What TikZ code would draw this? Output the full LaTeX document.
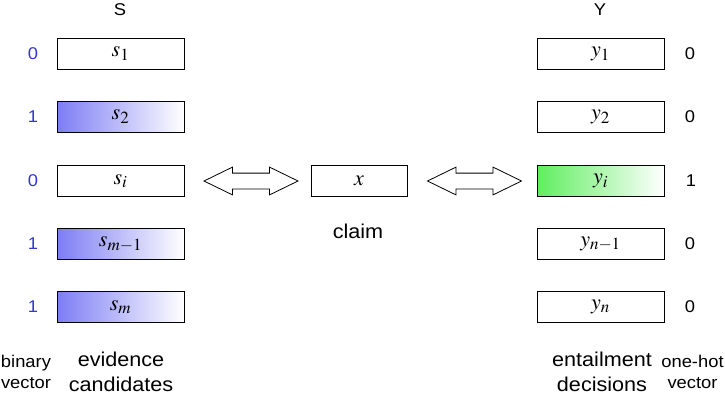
\documentclass[tikz,border=0pt]{standalone}
\usepackage{mathptmx}
\usepackage{fontspec}
\setmainfont[FakeStretch=1.08]{Liberation Sans}
\DeclareMathSizes{22}{22}{17}{13}
\usetikzlibrary{shapes.arrows, positioning}
\definecolor{evidblue}{RGB}{125,125,245}
\definecolor{entgreen}{RGB}{95,238,95}
\definecolor{bitblue}{RGB}{55,55,205}

\begin{document}
\begin{tikzpicture}[x=1pt, y=-1pt,
  every node/.style = {font=\fontsize{17}{20}\selectfont},
  cell/.style    = {rectangle, draw, line width=0.9pt, minimum width=127pt, minimum height=31pt, inner sep=0pt, font=\fontsize{22}{24}\selectfont},
  evid/.style    = {cell, left color=evidblue, right color=white},
  ent/.style     = {cell, left color=entgreen, right color=white},
  bit/.style     = {text=bitblue},
  link/.style    = {double arrow, draw, line width=0.8pt, inner xsep=0pt, inner ysep=7.5pt, minimum height=94pt, double arrow head extend=6pt, double arrow tip angle=52},
  caption/.style = {align=center, inner sep=0pt, font=\fontsize{20}{25}\selectfont},
  smallcap/.style = {align=center, inner sep=0pt, font=\fontsize{17}{21}\selectfont},
]
\useasboundingbox (0,0) rectangle (725,397);
% Evidence column
\node (hS) at (120,9.5) {S};
\node[cell] (s1) at (120.5,54) {$s_1$};
\node[evid] (s2) at (120.5,117) {$s_2$};
\node[cell] (si) at (120.5,181) {$s_i$};
\node[evid] (sm1) at (120.5,244) {$s_{m-1}$};
\node[evid] (sm) at (120.5,307) {$s_m$};
% Binary vector
\node[bit] (b1) at (33,54) {0};
\node[bit] (b2) at (33,117) {1};
\node[bit] (bi) at (33,181) {0};
\node[bit] (bm1) at (33,244) {1};
\node[bit] (bm) at (33,307) {1};
% Claim
\node[cell, minimum width=96pt] (x) at (359,181) {$x$};
\node[caption] (claim) at (358,231) {claim};
\node[link] (lx) at (251,181) {};
\node[link] (rx) at (474.5,181) {};
% Entailment column
\node (hY) at (600,9.5) {Y};
\node[cell] (y1) at (600.5,54) {$y_1$};
\node[cell] (y2) at (600.5,117) {$y_2$};
\node[ent] (yi) at (600.5,181) {$y_i$};
\node[cell] (yn1) at (600.5,244) {$y_{n-1}$};
\node[cell] (yn) at (600.5,307) {$y_n$};
% One-hot vector
\node (h1) at (690,54) {0};
\node (h2) at (690,117) {0};
\node (hi) at (691,181) {1};
\node (hn1) at (690,244) {0};
\node (hn) at (690,307) {0};
% Captions
\node[smallcap] (cbin) at (26,372) {binary\\vector};
\node[caption] (cev) at (121,372) {evidence\\candidates};
\node[caption] (cent) at (602,372) {entailment\\decisions};
\node[smallcap] (chot) at (692.5,372) {one-hot\\vector};
\end{tikzpicture}
\end{document}
